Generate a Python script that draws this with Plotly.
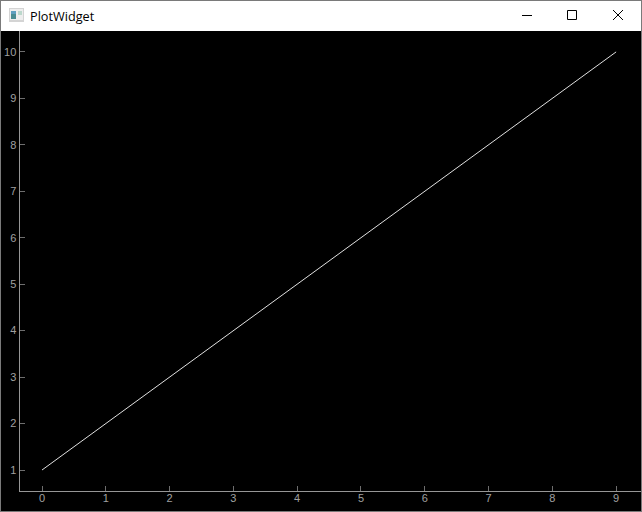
import plotly.graph_objects as go

x_values = [0, 1, 2, 3, 4, 5, 6, 7, 8, 9]
y_values = [1, 2, 3, 4, 5, 6, 7, 8, 9, 10]
x_ticks = [0, 1, 2, 3, 4, 5, 6, 7, 8, 9]
y_ticks = [1, 2, 3, 4, 5, 6, 7, 8, 9, 10]
window_title = "PlotWidget"

W, H = 642, 512


def px(x):
    return x / W


def py(y):
    return 1 - y / H


def rect(x0, y0, x1, y1, fill, line=None, width=0):
    return dict(type="rect", xref="paper", yref="paper", x0=px(x0), x1=px(x1),
                y0=py(y0), y1=py(y1), fillcolor=fill,
                line=dict(color=line or fill, width=width), layer="above")


def seg(x0, y0, x1, y1, color="#000000", width=1):
    return dict(type="line", xref="paper", yref="paper", x0=px(x0), x1=px(x1),
                y0=py(y0), y1=py(y1), line=dict(color=color, width=width), layer="above")


shapes = [
    rect(0, 0, W, 31, "#ffffff"),
    seg(0, 0.5, W, 0.5, "#7a7a7a"),
    seg(0.5, 0, 0.5, H, "#7a7a7a"),
    seg(641.5, 0, 641.5, H, "#7a7a7a"),
    seg(0, 511.5, W, 511.5, "#7a7a7a"),
    # window icon
    rect(9, 8, 24, 22, "#d4d4d4"),
    rect(10, 9, 23, 20, "#eeeeee"),
    rect(11, 11, 16, 19, "#4a8c92"),
    rect(11, 11, 16, 14, "#5f9fc0"),
    rect(18, 11, 22, 15, "#bcd8cc"),
    # minimise / maximise / close
    seg(522, 15.5, 532, 15.5),
    rect(567.5, 10.5, 576.5, 19.5, "#ffffff", "#000000", 1),
    seg(613, 10, 623, 20),
    seg(623, 10, 613, 20),
]

fig = go.Figure(go.Scatter(x=x_values, y=y_values, mode="lines",
                           line=dict(color="#e0e0e0", width=1),
                           hoverinfo="skip", showlegend=False))

axis_common = dict(
    showgrid=False, zeroline=False, showline=True, linecolor="#969696", linewidth=1,
    ticks="inside", ticklen=5, tickwidth=1, tickcolor="#6e6e6e",
    tickfont=dict(family="Liberation Sans", size=11, color="#a0a0a0"),
    tickmode="array",
)

fig.update_layout(
    width=W, height=H, margin=dict(l=0, r=0, t=0, b=0),
    paper_bgcolor="#000000", plot_bgcolor="#000000",
    xaxis=dict(axis_common, domain=[19.5 / W, 641 / W], range=[-0.353, 9.39],
               tickvals=x_ticks, anchor="y", ticklabelstandoff=-3),
    yaxis=dict(axis_common, domain=[1 - 490.5 / H, 1 - 31 / H], range=[0.559, 10.45],
               tickvals=y_ticks, anchor="x"),
    shapes=shapes,
    annotations=[dict(text=window_title, xref="paper", yref="paper", x=px(28), y=py(16),
                      xanchor="left", yanchor="middle", showarrow=False,
                      font=dict(family="Open Sans", size=12.7, color="#000000"))],
)

fig.write_html("out.html", config=dict(displayModeBar=False),
               post_script="document.body.style.margin='0';document.body.style.overflow='hidden';")
